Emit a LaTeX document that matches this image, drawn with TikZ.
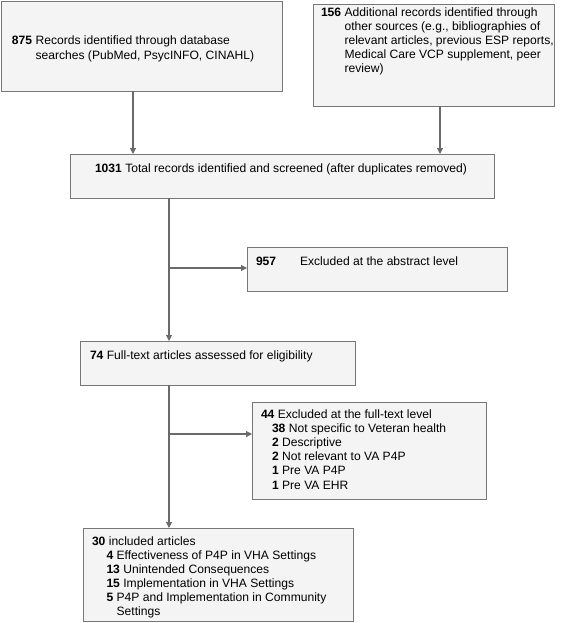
\documentclass[tikz,border=0pt]{standalone}
\usepackage{fontspec}
\setmainfont{Liberation Sans}
\usetikzlibrary{arrows.meta,calc}
\definecolor{boxfill}{HTML}{F4F4F4}
\definecolor{boxline}{HTML}{777777}
\definecolor{arrline}{HTML}{6A6A6A}
\newcommand{\fsz}{\fontsize{12.1}{14.1}\selectfont}
\newcommand{\bn}[1]{\textbf{#1}}
\begin{document}
\begin{tikzpicture}[x=1pt,y=-1pt,
  boxstyle/.style={draw=boxline,fill=boxfill,line width=0.9pt,inner sep=0pt,outer sep=0pt},
  txt/.style={anchor=base west,inner sep=0pt,outer sep=0pt,font=\fsz},
  arr/.style={draw=arrline,line width=1.1pt,-{Triangle[length=6pt,width=6pt]}},
  ln/.style={draw=arrline,line width=1.1pt}]
\useasboundingbox (0,0) rectangle (567,623);
% boxes
\node[boxstyle,minimum width=281pt,minimum height=90pt] (B1) at (141.5,46) {};
\node[boxstyle,minimum width=241pt,minimum height=102pt] (B2) at (433.5,55) {};
\node[boxstyle,minimum width=424pt,minimum height=44pt] (B3) at (282,176) {};
\node[boxstyle,minimum width=260pt,minimum height=44pt] (B4) at (377,269) {};
\node[boxstyle,minimum width=275pt,minimum height=44pt] (B5) at (217.5,363) {};
\node[boxstyle,minimum width=234pt,minimum height=97pt] (B6) at (369,450.5) {};
\node[boxstyle,minimum width=270pt,minimum height=93pt] (B7) at (218,574.5) {};
% texts
\node[txt] (T1) at (12,45) {\begin{tabular}[t]{@{}l@{}}\bn{875} Records identified through database\\\phantom{\bn{875}} searches (PubMed, PsycINFO, CINAHL)\end{tabular}};
\node[txt] (T2) at (321,16.6) {\begin{tabular}[t]{@{}l@{}}\bn{156} Additional records identified through\\\phantom{\bn{156}} other sources (e.g., bibliographies of\\\phantom{\bn{156}} relevant articles, previous ESP reports,\\\phantom{\bn{156}} Medical Care VCP supplement, peer\\\phantom{\bn{156}} review)\end{tabular}};
\node[txt] (T3) at (95,172.5) {\bn{1031} Total records identified and screened (after duplicates removed)};
\node[txt] (T4) at (256,265.5) {\bn{957}};
\node[txt] (T4b) at (300,265.5) {Excluded at the abstract level};
\node[txt] (T5) at (90,359.5) {\bn{74} Full-text articles assessed for eligibility};
\node[txt] (T6) at (261,418.5) {\begin{tabular}[t]{@{}l@{}}\bn{44} Excluded at the full-text level\\\hspace{11pt}\bn{38} Not specific to Veteran health\\\hspace{11pt}\bn{2} Descriptive\\\hspace{11pt}\bn{2} Not relevant to VA P4P\\\hspace{11pt}\bn{1} Pre VA P4P\\\hspace{11pt}\bn{1} Pre VA EHR\end{tabular}};
\node[txt] (T7) at (92,545) {\begin{tabular}[t]{@{}l@{}}\bn{30} included articles\\\hspace{14.5pt}\bn{4} Effectiveness of P4P in VHA Settings\\\hspace{14.5pt}\bn{13} Unintended Consequences\\\hspace{14.5pt}\bn{15} Implementation in VHA Settings\\\hspace{14.5pt}\bn{5} P4P and Implementation in Community\\\hspace{14.5pt}\phantom{\bn{5}} Settings\end{tabular}};
% connectors
\coordinate (a1) at (133,0);
\coordinate (a2) at (440,0);
\coordinate (m) at (169,0);
\coordinate (br1) at (169,268);
\coordinate (br2) at (169,434);
\draw[arr] (B1.south -| a1) -- (B3.north -| a1);
\draw[arr] (B2.south -| a2) -- (B3.north -| a2);
\draw[arr] (B3.south -| m) -- (B5.north -| m);
\draw[arr] (br1) -- (br1 -| B4.west);
\draw[arr] (B5.south -| m) -- (B7.north -| m);
\draw[arr] (br2) -- (br2 -| B6.west);
\end{tikzpicture}
\end{document}
